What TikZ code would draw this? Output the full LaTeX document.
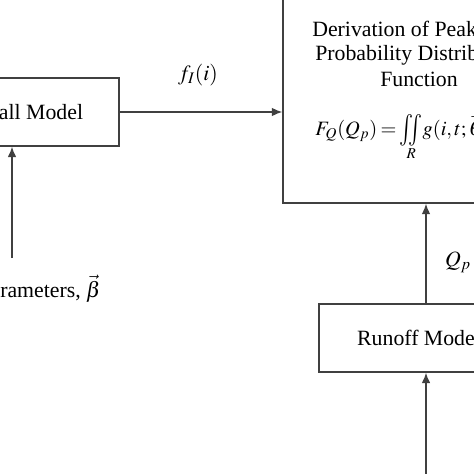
\documentclass[tikz,border=0pt]{standalone}
\usepackage{amsmath}
\usepackage{graphicx}
\usepackage{mathptmx}
\usepackage[no-math]{fontspec}
\setmainfont{Liberation Serif}
\usetikzlibrary{calc,arrows.meta}
\newcommand{\model}[6]{\node[draw=black!75,line width=1.1pt,rectangle,minimum width=#4cm,minimum height=#5cm] (#1) at (#2,#3) {#6};}
\newcommand{\feed}[2]{\draw[line width=1.1pt,black!75,-{Latex[length=0.26cm,width=0.22cm]}] (#1) -- (#2);}
\newcommand{\bigiint}{\mathop{\vcenter{\hbox{\scalebox{1.15}[1.55]{$\iint$}}}}}

\begin{document}
\begin{tikzpicture}[x=0.025cm,y=-0.025cm,every node/.style={font=\fontsize{15.5}{19}\selectfont,inner sep=0pt}]
    \useasboundingbox (0,0) rectangle (474,474);
    \clip (0,0) rectangle (474,474);
    \model{rain}{41}{112}{3.9}{1.7}{all Model}
    \model{derive}{426}{71.5}{7.15}{6.575}{}
    \model{runoff}{416}{338}{4.85}{1.7}{Runoff Mode}
    % text of the derivation box
    \node[anchor=base west] (dtitle) at (312,36) {Derivation of Peak};
    \node[anchor=base west] (dprob) at (315,60) {Probability Distrib};
    \node[anchor=base] (dfunc) at (419,86) {Function};
    \node[anchor=base west,font=\fontsize{14.5}{18}\selectfont] (dform) at (315,135)
        {$\thickmuskip=3mu F_Q(Q_p)=\bigiint\limits_R\! g(i,t;\vec{\theta})$};
    % inputs and links
    \node[anchor=base west] (param) at (0,297) {rameters, $\vec{\beta}$};
    \coordinate (pin) at (12,258);
    \coordinate (rin) at (426,476);
    \feed{pin}{pin |- rain.south}
    \feed{rin}{rin |- runoff.south}
    \feed{rain.east}{rain.east -| derive.west}
    \feed{runoff.north -| derive.south}{derive.south}
    \node (fi) at (198,75) {$f_I(i)$};
    \node (qp) at (458,262) {$Q_p$};
\end{tikzpicture}
\end{document}
